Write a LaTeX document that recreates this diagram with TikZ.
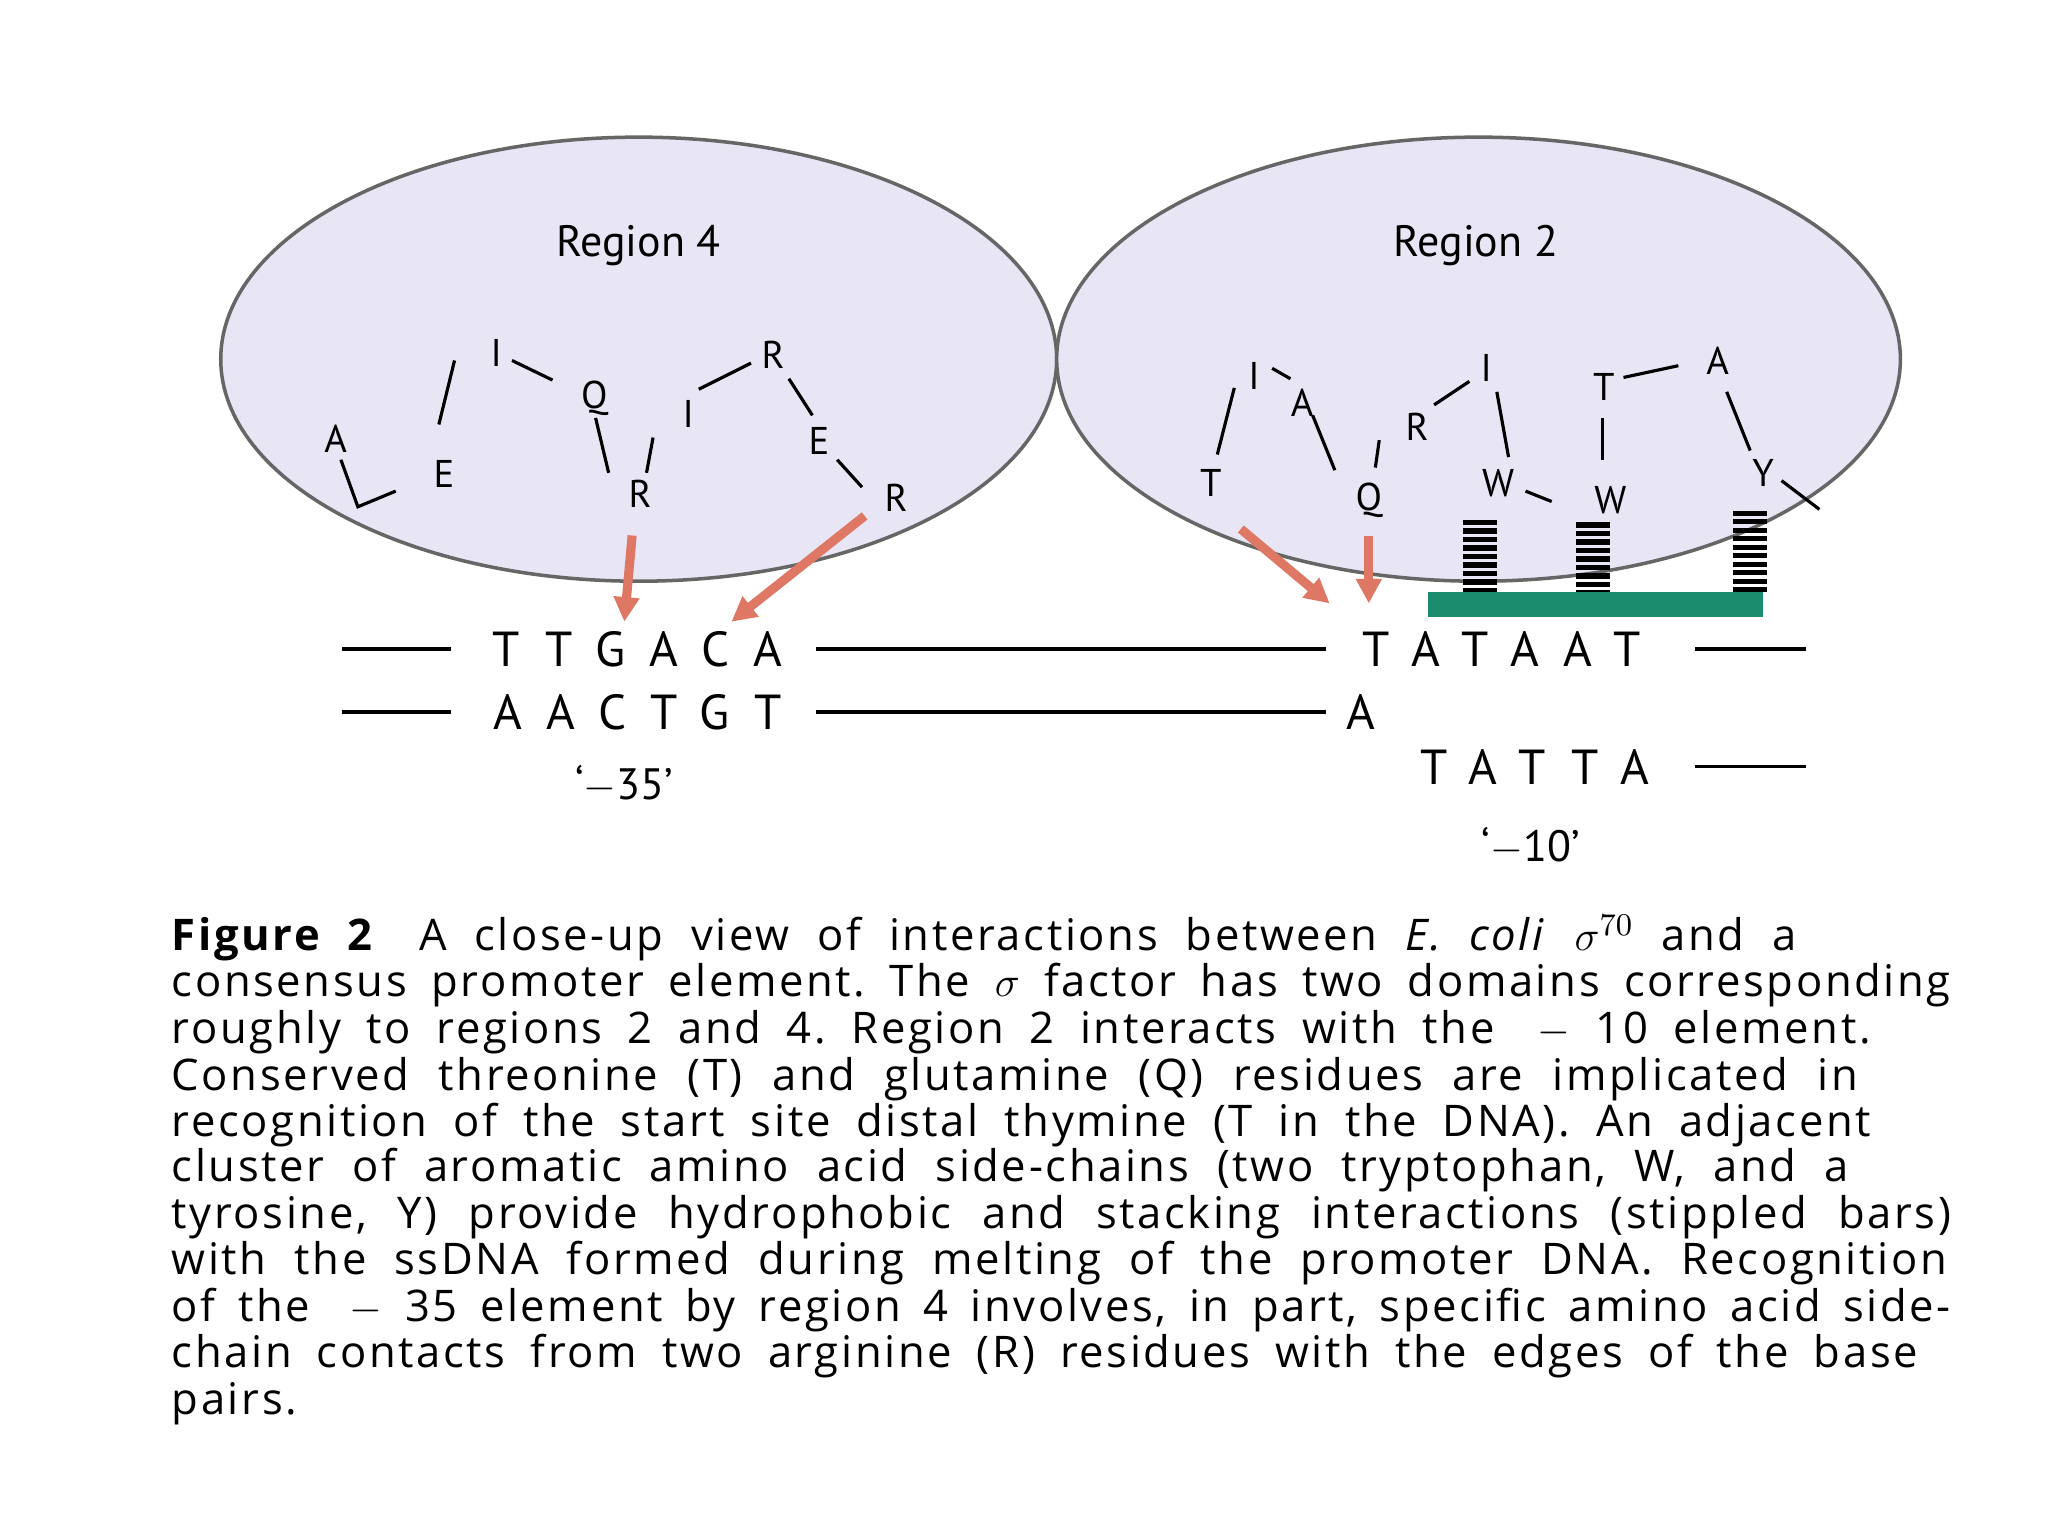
\documentclass[tikz,border=0pt]{standalone}
\usepackage{fontspec}
\setmainfont{PT Sans}
\newfontfamily\capfont[LetterSpace=6]{Open Sans}
\usetikzlibrary{arrows.meta}
\definecolor{lav}{RGB}{232,230,245}
\definecolor{arr}{RGB}{222,120,100}
\definecolor{grn}{RGB}{28,140,110}
\frenchspacing
\tikzset{
  dom/.style={draw=black!60,line width=1pt,fill=lav},
  aa/.style={font=\fontsize{11}{12}\selectfont,inner sep=1pt},
  bd/.style={line width=0.9pt},
  seq/.style={font=\fontsize{14}{14}\selectfont\addfontfeatures{LetterSpace=50},inner sep=1pt},
  dna/.style={line width=1pt},
  ctc/.style={-{Triangle[length=7pt,width=7pt]},line width=2.6pt,draw=arr},
  captxt/.style={anchor=west,inner sep=0pt,font=\capfont\fontsize{12.4}{13}\selectfont}
}
\newcommand{\cl}[2]{\makebox[#1cm][s]{#2}}
\begin{document}
\begin{tikzpicture}[x=0.013061cm,y=-0.013061cm]
\useasboundingbox (0,0) rectangle (1568,1176);
\fill[white] (0,0) rectangle (1568,1176);
\draw[dom] (489,275) ellipse[x radius=320,y radius=170];
\draw[dom] (1132,275) ellipse[x radius=323,y radius=170];
\node[font=\fontsize{12.5}{13}\selectfont] (r4) at (489,188) {Region 4};
\node[font=\fontsize{12.5}{13}\selectfont] (r2) at (1130,188) {Region 2};
% left residues
\node[aa] (lA) at (257,336) {A};
\node[aa] (lE) at (340,363) {E};
\node[aa] (lI) at (380,270) {I};
\node[aa] (lQ) at (455,305) {Q};
\node[aa] (lR1) at (490,378) {R};
\node[aa] (lI2) at (527,317) {I};
\node[aa] (lR2) at (592,272) {R};
\node[aa] (lE2) at (627,338) {E};
\node[aa] (lR3) at (686,381) {R};
\draw[bd] (261,352) -- (274,388) -- (303,376);
\draw[bd] (336,325) -- (348,276);
\draw[bd] (392,276) -- (423,291);
\draw[bd] (456,320) -- (466,362);
\draw[bd] (495,362) -- (500,335);
\draw[bd] (535,298) -- (575,278);
\draw[bd] (604,290) -- (622,318);
\draw[bd] (641,352) -- (660,373);
% right residues
\node[aa] (rT) at (927,370) {T};
\node[aa] (rI) at (960,288) {I};
\node[aa] (rA) at (997,308) {A};
\node[aa] (rQ) at (1048,383) {Q};
\node[aa] (rR) at (1085,327) {R};
\node[aa] (rI2) at (1138,282) {I};
\node[aa] (rW1) at (1147,370) {W};
\node[aa] (rW2) at (1233,383) {W};
\node[aa] (rT2) at (1228,296) {T};
\node[aa] (rA2) at (1315,276) {A};
\node[aa] (rY) at (1350,362) {Y};
\draw[bd] (932,348) -- (945,297);
\draw[bd] (974,282) -- (988,290);
\draw[bd] (1005,318) -- (1022,360);
\draw[bd] (1053,358) -- (1056,337);
\draw[bd] (1098,310) -- (1125,292);
\draw[bd] (1146,300) -- (1155,350);
\draw[bd] (1168,376) -- (1188,384);
\draw[bd] (1227,320) -- (1227,352);
\draw[bd] (1243,289) -- (1285,280);
\draw[bd] (1322,300) -- (1340,345);
\draw[bd] (1364,368) -- (1393,390);
% stippled bars
\foreach \x/\t in {1133/400,1220/402,1340/393}{
  \foreach \k in {0,...,9}{
    \draw[line width=1.5pt] (\x-13,\t+\k*6.5) -- (\x+13,\t+\k*6.5);
  }
}
\draw[grn,line width=7pt] (1093,463) -- (1350,463);
% arrows
\draw[ctc] (484,410) -- (478,476);
\draw[ctc] (662,395) -- (560,476);
\draw[ctc] (950,405) -- (1018,462);
\draw[ctc] (1048,410) -- (1048,462);
% DNA
\node[seq] (s1) at (488,497) {TTGACA};
\node[seq] (s2) at (1150,497) {TATAAT};
\node[seq] (s3) at (488,545) {AACTGT};
\node[seq] (s4) at (1042,545) {A};
\node[seq] (s5) at (1175,587) {TATTA};
\coordinate (a1) at (262,497); \coordinate (a2) at (1383,497);
\coordinate (b1) at (262,545); \coordinate (c2) at (1383,587);
\draw[dna] (a1) -- ++(83,0);
\draw[dna] (625,497) -- (1015,497);
\draw[dna] (1298,497) -- (a2);
\draw[dna] (b1) -- ++(83,0);
\draw[dna] (625,545) -- (1015,545);
\draw[dna] (1298,587) -- (c2);
\node[font=\fontsize{12.5}{13}\selectfont] (m35) at (478,600) {‘$-$35’};
\node[font=\fontsize{12.5}{13}\selectfont] (m10) at (1172,648) {‘$-$10’};
% caption
\node[captxt] (c1) at (131,718) {\cl{16.25}{\textbf{Figure 2}\quad A close-up view of interactions between \textit{E. coli} $\sigma^{70}$ and a}};
\node[captxt] (c2l) at (131,754) {\cl{17.79}{consensus promoter element. The $\sigma$ factor has two domains corresponding}};
\node[captxt] (c3l) at (131,790) {\cl{16.99}{roughly to regions 2 and 4. Region 2 interacts with the {\kern0.4em}$-$ 10 element.}};
\node[captxt] (c4l) at (131,826) {\cl{16.86}{Conserved threonine (T) and glutamine (Q) residues are implicated in}};
\node[captxt] (c5l) at (131,861) {\cl{16.99}{recognition of the start site distal thymine (T in the DNA). An adjacent}};
\node[captxt] (c6l) at (131,896) {\cl{16.77}{cluster of aromatic amino acid side-chains (two tryptophan, W, and a}};
\node[captxt] (c7l) at (131,932) {\cl{17.79}{tyrosine, Y) provide hydrophobic and stacking interactions (stippled bars)}};
\node[captxt] (c8l) at (131,967) {\cl{17.75}{with the ssDNA formed during melting of the promoter DNA. Recognition}};
\node[captxt] (c9l) at (131,1003) {\cl{17.79}{of the {\kern0.4em}$-$ 35 element by region 4 involves, in part, specific amino acid side-}};
\node[captxt] (c10l) at (131,1038) {\cl{17.46}{chain contacts from two arginine (R) residues with the edges of the base}};
\node[captxt] (c11l) at (131,1075) {pairs.};
\end{tikzpicture}
\end{document}
